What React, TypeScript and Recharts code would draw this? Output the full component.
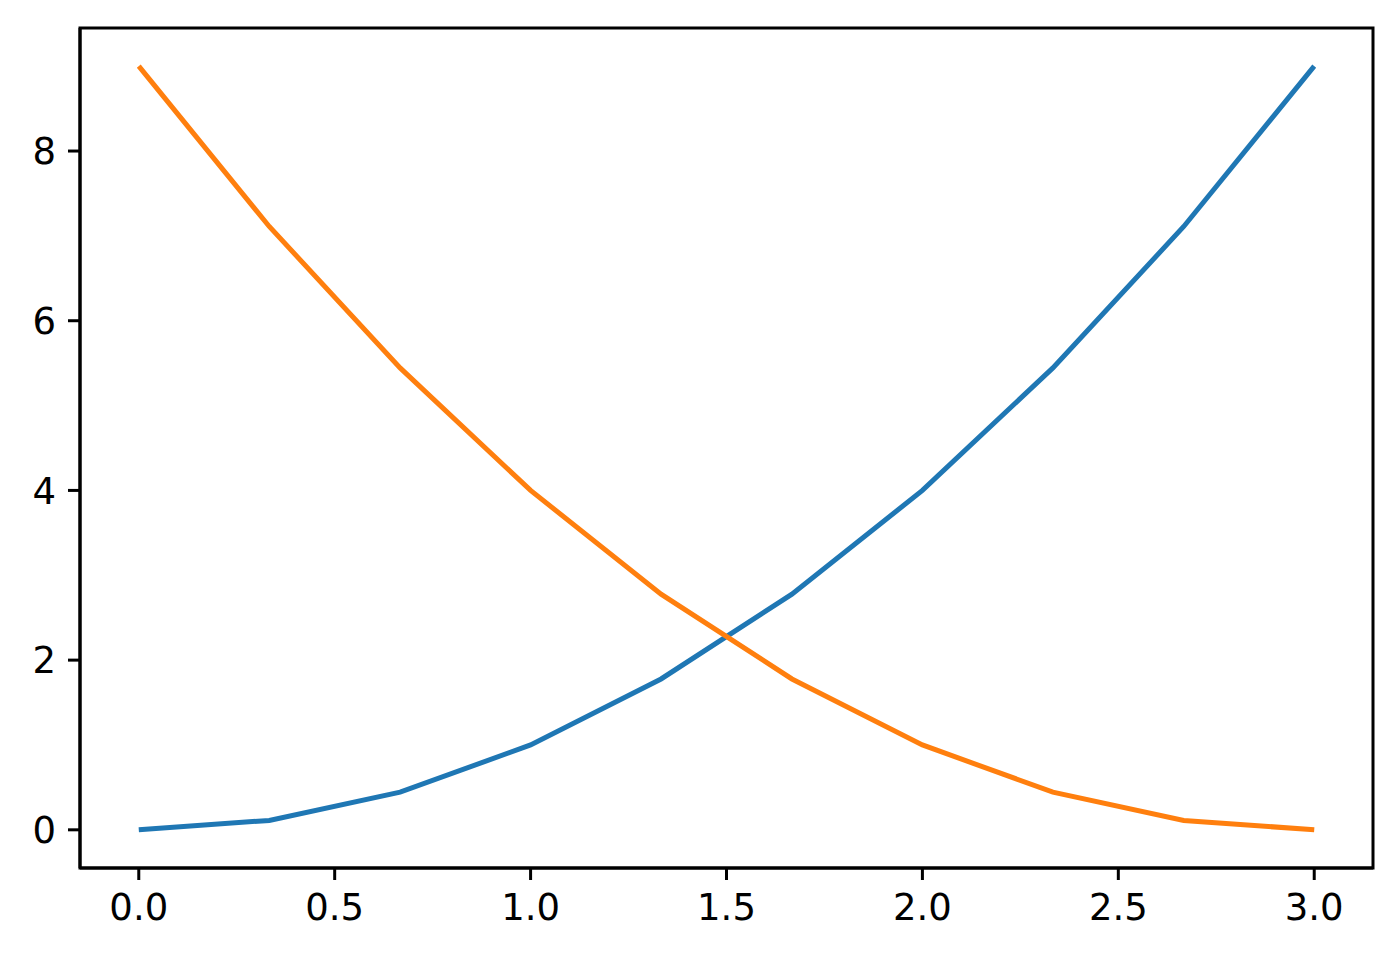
import { Line, LineChart, ReferenceArea, XAxis, YAxis } from "recharts";

// x positions and the two curves
const xValues = [0, 0.333, 0.667, 1, 1.333, 1.667, 2, 2.333, 2.667, 3];
const rising = [0, 0.111, 0.444, 1, 1.778, 2.778, 4, 5.444, 7.111, 9];
const falling = [9, 7.111, 5.444, 4, 2.778, 1.778, 1, 0.444, 0.111, 0];

const xTicks = [0, 0.5, 1, 1.5, 2, 2.5, 3];
const yTicks = [0, 2, 4, 6, 8];
const xDomain: [number, number] = [-0.15, 3.15];
const yDomain: [number, number] = [-0.45, 9.45];

const data = xValues.map((x, i) => ({ x, rising: rising[i], falling: falling[i] }));

const font = { fontFamily: "DejaVu Sans", fontSize: 37, fill: "#000" };
const axisStroke = { stroke: "#000", strokeWidth: 3 };

const App: React.FC = () => {
    return (
        <div style={{ marginTop: -8, marginLeft: -8, width: 1400, height: 960, background: "#fff" }}>
            <LineChart width={1400} height={960} data={data} margin={{ top: 28, right: 27, bottom: 0, left: 0 }}>
                <XAxis
                    dataKey="x"
                    type="number"
                    domain={xDomain}
                    allowDataOverflow
                    ticks={xTicks}
                    tickFormatter={(v: number) => v.toFixed(1)}
                    height={92}
                    tickSize={12}
                    tickMargin={14}
                    tick={font}
                    axisLine={axisStroke}
                    tickLine={axisStroke}
                />
                <YAxis
                    type="number"
                    domain={yDomain}
                    allowDataOverflow
                    ticks={yTicks}
                    width={80}
                    tickSize={12}
                    tickMargin={12}
                    tick={font}
                    axisLine={axisStroke}
                    tickLine={axisStroke}
                />
                <ReferenceArea
                    x1={xDomain[0]}
                    x2={xDomain[1]}
                    y1={yDomain[0]}
                    y2={yDomain[1]}
                    fill="none"
                    fillOpacity={0}
                    stroke="#000"
                    strokeWidth={3}
                    strokeOpacity={1}
                    ifOverflow="visible"
                />
                <Line type="linear" dataKey="rising" stroke="#1f77b4" strokeWidth={5} dot={false} isAnimationActive={false} />
                <Line type="linear" dataKey="falling" stroke="#ff7f0e" strokeWidth={5} dot={false} isAnimationActive={false} />
            </LineChart>
        </div>
    );
};

export default App;
